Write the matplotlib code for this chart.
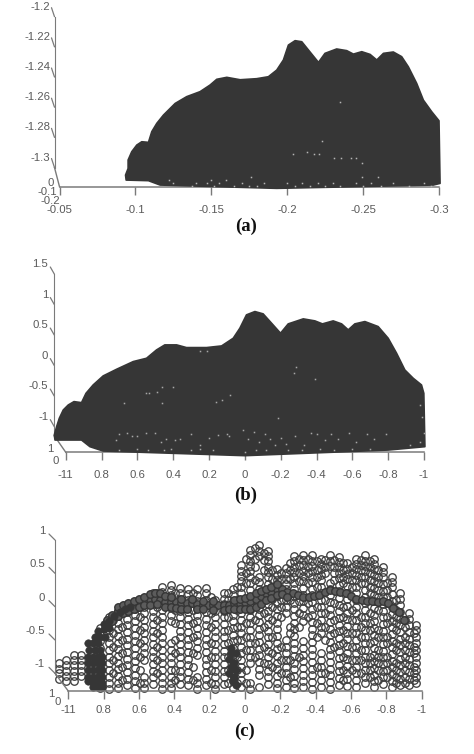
import matplotlib
matplotlib.use('Agg')
import matplotlib.pyplot as plt

plt.rcParams['font.family'] = ['Liberation Sans', 'DejaVu Sans']

W, H = 474, 754
DARK = '#363636'
AXC = '#7a7a7a'
TXT = '#5a5a5a'

# --- panel (a)
a_x_ticks = [-0.05, -0.1, -0.15, -0.2, -0.25, -0.3]
a_x_labels = ['-0.05', '-0.1', '-0.15', '-0.2', '-0.25', '-0.3']
a_y_ticks = [-1.2, -1.22, -1.24, -1.26, -1.28, -1.3]
a_y_labels = ['-1.2', '-1.22', '-1.24', '-1.26', '-1.28', '-1.3']
a_outline_x = [-0.0939, -0.0935, -0.0952, -0.0952, -0.0976, -0.1009, -0.1042, -0.1086, -0.1108, -0.1141,
               -0.1185, -0.1262, -0.1338, -0.1426, -0.1492, -0.1536, -0.1602, -0.169, -0.1799, -0.1876,
               -0.1931, -0.1975, -0.2008, -0.2052, -0.2096, -0.214, -0.2206, -0.2249, -0.2326, -0.2392,
               -0.2436, -0.2491, -0.2546, -0.259, -0.2634, -0.2699, -0.2754, -0.2798, -0.2853, -0.2897,
               -0.2952, -0.3, -0.3007, -0.2963, -0.1931, -0.1163, -0.1086]
a_outline_y = [-1.3083, -1.305, -1.3006, -1.295, -1.2895, -1.2851, -1.2829, -1.2833, -1.2762, -1.2707,
               -1.2652, -1.2575, -1.253, -1.2497, -1.2453, -1.2415, -1.2402, -1.2418, -1.2411, -1.2398,
               -1.2354, -1.2287, -1.2188, -1.2159, -1.2166, -1.2221, -1.2303, -1.2243, -1.2214, -1.2225,
               -1.2248, -1.2232, -1.225, -1.2287, -1.2243, -1.2234, -1.2265, -1.2332, -1.2442, -1.2553,
               -1.263, -1.269, -1.3105, -1.3116, -1.3138, -1.3116, -1.3087]
a_speck_x = [-0.2348, -0.2232, -0.2037, -0.2133, -0.2177, -0.2208, -0.2309, -0.2353, -0.2418, -0.2454, -0.2495,
             -0.122, -0.125, -0.137, -0.14, -0.147, -0.15, -0.152, -0.155, -0.16, -0.165, -0.17, -0.175, -0.18,
             -0.185, -0.2, -0.205, -0.21, -0.215, -0.22, -0.225, -0.23, -0.235, -0.245, -0.25, -0.255, -0.262,
             -0.27, -0.28, -0.29, -0.295, -0.176, -0.249, -0.26]
a_speck_y = [-1.2568, -1.2827, -1.2908, -1.2897, -1.2908, -1.2908, -1.2939, -1.2939, -1.2939, -1.2939, -1.2972,
             -1.3085, -1.3105, -1.312, -1.3105, -1.3105, -1.3085, -1.312, -1.3105, -1.3085, -1.312, -1.3105,
             -1.312, -1.312, -1.3105, -1.3105, -1.312, -1.3105, -1.312, -1.3105, -1.312, -1.3105, -1.312,
             -1.3105, -1.312, -1.3105, -1.312, -1.3105, -1.312, -1.3105, -1.312, -1.3065, -1.3065, -1.3065]

# --- panel (b)
bc_x_ticks = [1, 0.8, 0.6, 0.4, 0.2, 0, -0.2, -0.4, -0.6, -0.8, -1]
bc_x_labels = ['-11', '0.8', '0.6', '0.4', '0.2', '0', '-0.2', '-0.4', '-0.6', '-0.8', '-1']
b_y_ticks = [1.5, 1, 0.5, 0, -0.5, -1]
b_y_labels = ['1.5', '1', '0.5', '0', '-0.5', '-1']
b_outline_x = [1.064, 1.051, 1.036, 1.014, 0.986, 0.954, 0.912, 0.887, 0.847, 0.791, 0.716, 0.623, 0.549, 0.493,
               0.447, 0.381, 0.326, 0.214, 0.13, 0.065, 0.028, -0.009, -0.056, -0.102, -0.149, -0.199, -0.242,
               -0.326, -0.391, -0.433, -0.493, -0.54, -0.577, -0.614, -0.67, -0.744, -0.8, -0.847, -0.893, -0.94,
               -0.986, -0.999, -1.005, -0.8, 0, 0.791, 0.865, 0.912, 1.06]
b_outline_y = [-1.137, -1.0, -0.863, -0.727, -0.645, -0.59, -0.607, -0.454, -0.317, -0.169, -0.06, 0.066, 0.12,
               0.257, 0.339, 0.339, 0.295, 0.295, 0.322, 0.448, 0.612, 0.831, 0.885, 0.847, 0.694, 0.53, 0.683,
               0.765, 0.732, 0.683, 0.732, 0.683, 0.585, 0.683, 0.721, 0.639, 0.448, 0.202, -0.071, -0.208,
               -0.317, -0.454, -1.328, -1.383, -1.475, -1.399, -1.328, -1.219, -1.219]
b_speck_x = [0.553, 0.536, 0.489, 0.461, 0.4, 0.46, 0.675, 0.164, 0.13, 0.084, -0.273, -0.288, -0.394, -0.186,
             0.251, 0.21,
             0.72, 0.7, 0.66, 0.63, 0.6, 0.55, 0.5, 0.47, 0.44, 0.39, 0.36, 0.3, 0.25, 0.2, 0.15, 0.1, 0.09,
             0.01, -0.02, -0.05, -0.08, -0.11, -0.14, -0.17, -0.2, -0.23, -0.28, -0.33, -0.37, -0.4, -0.45,
             -0.48, -0.52, -0.58, -0.62, -0.68, -0.72, -0.79, -0.98, -0.99, -1.0,
             0.7, 0.6, 0.54, 0.45, 0.41, 0.3, 0.25, 0.18, 0.0, -0.06, -0.12, -0.24, -0.32, -0.42, -0.5, -0.6,
             -0.7, -0.92, -0.98]
b_speck_y = [-0.454, -0.454, -0.426, -0.355, -0.344, -0.607, -0.617, -0.59, -0.563, -0.481, -0.115, -0.027,
             -0.213, -0.863, 0.246, 0.246,
             -1.22, -1.12, -1.1, -1.15, -1.16, -1.1, -1.1, -1.25, -1.2, -1.22, -1.2, -1.12, -1.3, -1.18, -1.14,
             -1.12, -1.16, -1.06, -1.2, -1.08, -1.25, -1.12, -1.2, -1.3, -1.18, -1.28, -1.15, -1.3, -1.1, -1.12,
             -1.22, -1.12, -1.2, -1.1, -1.25, -1.12, -1.2, -1.12, -0.65, -0.85, -1.1,
             -1.38, -1.37, -1.38, -1.38, -1.37, -1.38, -1.37, -1.38, -1.42, -1.38, -1.39, -1.38, -1.38, -1.37,
             -1.38, -1.37, -1.36, -1.3, -1.25]

# --- panel (c)
c_y_ticks = [1, 0.5, 0, -0.5, -1]
c_y_labels = ['1', '0.5', '0', '-0.5', '-1']
c_col_x = [1.05, 1.01, 0.97, 0.93, 0.82, 0.77, 0.72, 0.67, 0.62, 0.57, 0.52, 0.47, 0.42, 0.37, 0.32, 0.27, 0.22,
           0.17, 0.12, 0.07, 0.02, -0.03, -0.08, -0.13, -0.18, -0.23, -0.28, -0.33, -0.38, -0.43, -0.48, -0.53,
           -0.58, -0.63, -0.68, -0.73, -0.78, -0.83, -0.88, -0.93, -0.97]
c_col_y = [
    [-0.85, -0.93, -1.0, -1.08],
    [-0.8, -0.88, -0.96, -1.04, -1.12],
    [-0.72, -0.8, -0.88, -0.96, -1.04, -1.12],
    [-0.72, -0.8, -0.88, -0.96, -1.04],
    [-0.32, -0.42, -0.52, -0.62, -0.72, -0.82, -0.92, -1.02, -1.12, -1.22],
    [-0.15, -0.25, -0.35, -0.45, -0.55, -0.65, -0.75, -0.85, -0.95, -1.05, -1.15, -1.23],
    [-0.06, -0.14, -0.24, -0.34, -0.44, -0.54, -0.64, -0.74, -0.84, -0.94, -1.04, -1.14, -1.22],
    [0.0, -0.08, -0.18, -0.28, -0.38, -0.48, -0.58, -0.68, -0.78, -0.88, -0.98, -1.08, -1.18],
    [0.04, -0.04, -0.12, -0.22, -0.32, -0.42, -0.52, -0.62, -0.72, -0.82, -0.92, -1.02, -1.12, -1.22],
    [0.08, 0.0, -0.1, -0.2, -0.3, -0.4, -0.5, -0.6, -0.7, -0.8, -1.05, -1.15, -1.22],
    [0.2, 0.12, 0.04, -0.06, -0.16, -0.26, -0.36, -0.46, -0.56, -0.66, -0.76, -0.86, -0.96, -1.06, -1.16],
    [0.3, 0.22, 0.14, 0.05, -0.05, -0.15, -0.25, -0.35, -0.45, -0.55, -0.65, -0.75, -0.85, -0.95, -1.05, -1.15, -1.23],
    [0.33, 0.25, 0.17, 0.08, -0.02, -0.12, -0.22, -0.55, -0.65, -0.75, -0.85, -0.95, -1.05, -1.15, -1.22],
    [0.28, 0.2, 0.12, 0.04, -0.06, -0.16, -0.26, -0.36, -0.46, -0.56, -0.66, -0.76, -0.86, -0.96, -1.06, -1.16],
    [0.27, 0.19, 0.1, 0.02, -0.08, -0.18, -0.28, -0.38, -0.48, -0.58, -0.68, -0.78, -0.88, -0.98, -1.08, -1.18],
    [0.27, 0.18, 0.08, -0.02, -0.12, -0.22, -0.32, -0.42, -0.52, -0.62, -0.72, -1.05, -1.15, -1.23],
    [0.28, 0.2, 0.1, 0.02, -0.08, -0.18, -0.28, -0.38, -0.48, -0.58, -0.68, -0.78, -0.88, -0.98, -1.08, -1.18],
    [0.1, 0.02, -0.06, -0.16, -0.26, -0.36, -0.46, -0.56, -0.66, -0.76, -0.86, -0.96, -1.06, -1.16, -1.23],
    [0.2, 0.12, 0.04, -0.06, -0.16, -0.26, -0.36, -0.46, -0.56, -0.66, -0.76, -0.86, -0.96, -1.06, -1.16],
    [0.27, 0.18, 0.08, -0.02, -0.12, -0.22, -0.32, -0.42, -0.52, -0.62, -0.72, -0.82, -0.92, -1.02, -1.12, -1.22],
    [0.62, 0.54, 0.46, 0.38, 0.3, 0.2, 0.1, 0.0, -0.1, -0.2, -0.3, -0.4, -0.5, -0.6, -0.7, -0.8, -0.9, -1.0, -1.1, -1.2],
    [0.85, 0.77, 0.69, 0.61, 0.53, 0.45, 0.35, 0.25, 0.15, 0.05, -0.05, -0.15, -0.25, -0.35, -0.45, -0.55, -0.65, -0.75, -0.85, -1.15, -1.23],
    [0.92, 0.84, 0.76, 0.45, 0.37, 0.27, 0.17, 0.07, -0.03, -0.13, -0.23, -0.33, -0.43, -0.53, -0.63, -0.73, -0.83, -0.93, -1.03, -1.2],
    [0.84, 0.76, 0.68, 0.6, 0.52, 0.44, 0.34, 0.24, 0.14, 0.04, -0.06, -0.16, -0.26, -0.36, -0.46, -0.56, -0.66, -0.76, -0.86, -0.96, -1.06, -1.16],
    [0.56, 0.48, 0.4, 0.32, 0.24, 0.16, 0.06, -0.04, -0.14, -0.24, -0.34, -0.44, -0.54, -0.64, -0.74, -0.84, -0.94, -1.04, -1.14, -1.22],
    [0.58, 0.5, 0.42, 0.34, 0.26, 0.18, 0.1, 0.0, -0.1, -0.5, -0.6, -0.7, -0.8, -0.9, -1.0, -1.1, -1.2],
    [0.76, 0.68, 0.6, 0.52, 0.44, 0.36, 0.26, 0.16, 0.06, -0.04, -0.14, -0.24, -0.34, -0.44, -0.54, -0.64, -0.74, -0.84, -0.94, -1.04, -1.14, -1.22],
    [0.78, 0.7, 0.62, 0.54, 0.46, 0.38, 0.28, 0.18, 0.08, -0.02, -0.12, -0.22, -0.52, -0.62, -0.72, -0.82, -0.92, -1.02, -1.12, -1.2],
    [0.77, 0.69, 0.61, 0.53, 0.45, 0.37, 0.27, 0.17, 0.07, -0.03, -0.13, -0.23, -0.33, -0.43, -0.53, -0.63, -0.73, -0.83, -0.93, -1.03, -1.13, -1.23],
    [0.72, 0.64, 0.56, 0.48, 0.4, 0.3, 0.2, 0.1, 0.0, -0.1, -0.2, -0.3, -0.4, -0.7, -0.8, -0.9, -1.0, -1.1, -1.2],
    [0.77, 0.69, 0.61, 0.35, 0.27, 0.17, 0.07, -0.03, -0.13, -0.23, -0.33, -0.43, -0.53, -0.63, -0.73, -0.83, -0.93, -1.03, -1.13, -1.23],
    [0.75, 0.67, 0.59, 0.51, 0.43, 0.33, 0.23, 0.13, 0.03, -0.07, -0.17, -0.27, -0.37, -0.47, -0.57, -0.67, -0.77, -0.87, -0.97, -1.07, -1.17],
    [0.65, 0.57, 0.49, 0.41, 0.31, 0.21, 0.11, 0.01, -0.09, -0.19, -0.29, -0.39, -0.49, -0.59, -0.69, -0.79, -0.89, -0.99, -1.09, -1.19],
    [0.72, 0.64, 0.56, 0.48, 0.4, 0.3, 0.2, 0.1, 0.0, -0.1, -0.2, -0.3, -0.4, -0.5, -0.6, -0.7, -0.8, -0.9, -1.0, -1.1, -1.2],
    [0.77, 0.69, 0.61, 0.53, 0.45, 0.35, 0.25, 0.15, 0.05, -0.05, -0.15, -0.25, -0.35, -0.45, -0.55, -0.65, -0.75, -0.85, -0.95, -1.05, -1.15],
    [0.72, 0.64, 0.56, 0.48, 0.38, 0.28, 0.18, 0.08, -0.02, -0.12, -0.22, -0.32, -0.42, -0.52, -0.62, -0.72, -0.82, -0.92, -1.02, -1.12, -1.2],
    [0.6, 0.52, 0.44, 0.34, 0.24, 0.14, 0.04, -0.06, -0.16, -0.26, -0.36, -0.46, -0.56, -0.66, -0.76, -0.86, -0.96, -1.06, -1.16],
    [0.45, 0.37, 0.29, 0.19, 0.09, -0.01, -0.11, -0.21, -0.31, -0.41, -0.51, -0.61, -0.71, -0.81, -0.91, -1.01, -1.11, -1.2],
    [0.2, 0.12, 0.02, -0.08, -0.18, -0.28, -0.38, -0.48, -0.58, -0.68, -0.78, -0.88, -0.98, -1.08, -1.18],
    [-0.1, -0.18, -0.28, -0.38, -0.48, -0.58, -0.68, -0.78, -0.88, -0.98, -1.08, -1.18],
    [-0.27, -0.35, -0.45, -0.55, -0.65, -0.75, -0.85, -0.95, -1.05, -1.15],
]
# second sheet of the surface, seen through the first
c_back_x = [-0.955, -0.905, -0.855, -0.805, -0.755, -0.705, -0.655, -0.605, -0.555, -0.505, -0.455, -0.405, -0.355,
            -0.305, -0.255, -0.205, -0.155, -0.105, -0.055, -0.005, 0.045, 0.095, 0.195, 0.295, 0.395, 0.495,
            0.595, 0.695, 0.745]
c_back_y = [
    [-0.4, -0.6, -0.7, -0.9, -1.0, -1.1],
    [-0.2, -0.3, -0.45, -0.55, -0.65, -0.75, -0.85, -0.95, -1.05, -1.15],
    [0.1, -0.05, -0.15, -0.25, -0.35, -0.55, -0.65, -0.85, -0.95, -1.05, -1.15],
    [0.35, 0.25, 0.15, 0.05, -0.15, -0.25, -0.45, -0.55, -0.75, -0.85, -0.95, -1.05],
    [0.55, 0.45, 0.35, 0.25, 0.15, -0.05, -0.35, -0.45, -0.65, -0.75, -0.85, -0.95, -1.1],
    [0.68, 0.6, 0.5, 0.4, 0.3, 0.2, -0.1, -0.25, -0.35, -0.55, -0.75, -0.85, -0.95, -1.05],
    [0.7, 0.62, 0.55, 0.45, 0.35, -0.15, -0.3, -0.45, -0.65, -0.8, -1.0],
    [0.6, 0.5, 0.4, 0.3, -0.05, -0.2, -0.4, -0.6, -0.8, -0.95],
    [0.65, 0.55, 0.45, 0.35, 0.0, -0.15, -0.35, -0.55, -0.75, -0.95, -1.1],
    [0.7, 0.6, 0.5, 0.4, 0.05, -0.2, -0.4, -0.6],
    [0.7, 0.6, 0.5, 0.1, -0.1, -0.3, -0.5, -1.0],
    [0.68, 0.55, 0.45, 0.3, 0.0, -0.25, -0.45, -0.9],
    [0.72, 0.6, 0.5, 0.35, 0.05, -0.15],
    [0.72, 0.62, 0.5, 0.38, 0.08, -0.1, -0.3, -0.75],
    [0.66, 0.55, 0.42, 0.1, -0.3, -0.4, -0.8, -1.05],
    [0.5, 0.42, 0.1, 0.0, -0.15, -0.6, -0.8, -1.0],
    [0.55, 0.42, 0.3, 0.12, 0.0, -0.2, -0.45, -0.7, -0.9],
    [0.8, 0.7, 0.55, 0.1, -0.1, -0.3, -0.6, -0.85],
    [0.88, 0.72, 0.6, 0.4, 0.1, -0.2, -0.55, -0.75],
    [0.72, 0.5, 0.35, 0.05, -0.25, -0.45, -0.65, -0.95, -1.15],
    [0.3, 0.1, -0.05, -0.3, -0.5, -0.75, -0.95, -1.15],
    [0.2, 0.1, -0.15, -0.35, -0.55, -0.75, -0.95, -1.15],
    [0.15, -0.1, -0.3, -0.55, -0.75, -0.95, -1.15],
    [0.2, -0.05, -0.25, -0.45, -0.7, -0.9, -1.1],
    [0.2, -0.05, -0.25, -0.5, -0.7, -0.95, -1.1],
    [0.2, 0.0, -0.2, -0.4, -0.6, -0.8, -1.0],
    [0.0, -0.15, -0.35, -0.55, -0.75, -0.95, -1.15],
    [-0.1, -0.3, -0.5, -0.7, -0.9, -1.1],
    [-0.2, -0.4, -0.6, -0.8, -1.0],
]
# dense fold running along the surface
c_fold_x = [0.78, 0.75, 0.72, 0.69, 0.66, 0.63, 0.6, 0.57, 0.54, 0.51, 0.48, 0.45, 0.42, 0.39, 0.36, 0.33, 0.3, 0.27,
            0.24, 0.21, 0.18, 0.15, 0.12, 0.09, 0.06, 0.03, 0.0, -0.03, -0.06, -0.09, -0.12, -0.15, -0.18, -0.21,
            -0.24, -0.27, -0.3, -0.33, -0.36, -0.39, -0.42, -0.45, -0.48, -0.51, -0.54, -0.57, -0.6, -0.63, -0.66,
            -0.69, -0.72, -0.75, -0.78, -0.81, -0.84, -0.87, -0.9]
c_fold_y = [-0.2, -0.13, -0.07, -0.03, 0.0, 0.03, 0.06, 0.09, 0.11, 0.12, 0.1, 0.07, 0.07, 0.07, 0.06, 0.05, 0.05, 0.04,
            0.03, 0.02, 0.03, 0.03, 0.03, 0.03, 0.05, 0.05, 0.07, 0.09, 0.12, 0.16, 0.2, 0.22, 0.27, 0.27,
            0.22, 0.2, 0.17, 0.15, 0.15, 0.16, 0.18, 0.22, 0.25, 0.24, 0.22, 0.2, 0.16, 0.12, 0.1,
            0.08, 0.08, 0.07, 0.08, 0.05, -0.02, -0.08, -0.2]
c_fold_up_x = [0.72, 0.69, 0.66, 0.63, 0.6, 0.57, 0.54, 0.51, 0.48, 0.45, 0.42, 0.36, 0.3, 0.24, 0.18, 0.06, 0.03, 0.0,
               -0.03, -0.06, -0.09, -0.12, -0.15, -0.18]
c_fold_up_y = [-0.01, 0.03, 0.06, 0.09, 0.12, 0.15, 0.19, 0.21, 0.2, 0.16, 0.14, 0.12, 0.11, 0.09, 0.09, 0.1, 0.12, 0.13,
               0.16, 0.2, 0.23, 0.27, 0.3, 0.34]
c_fold_lo_x = [0.78, 0.75, 0.72, 0.69, 0.66, 0.63, 0.6, 0.57, 0.54, 0.5, 0.45, 0.42, 0.39, 0.36, 0.33, 0.27, 0.24, 0.18,
               0.12, 0.09, 0.06, 0.03, 0.0, -0.03, -0.06, -0.09, -0.12, -0.15, -0.18, -0.21, -0.24]
c_fold_lo_y = [-0.28, -0.21, -0.14, -0.1, -0.07, -0.04, -0.01, 0.02, 0.03, 0.04, 0.0, -0.01, -0.02, -0.03, -0.03, -0.04, -0.04, -0.05,
               -0.05, -0.04, -0.03, -0.04, -0.04, -0.03, 0.0, 0.04, 0.1, 0.13, 0.17, 0.19, 0.14]
# almost solid patches
c_solid_x = [0.89, 0.86, 0.83, 0.88, 0.85, 0.82, 0.89, 0.86, 0.83, 0.81, 0.89, 0.86, 0.83, 0.81, 0.89, 0.86, 0.83, 0.81,
             0.89, 0.86, 0.83, 0.81, 0.89, 0.86, 0.83, 0.81, 0.86, 0.83, 0.81, 0.85, 0.82, 0.79, 0.83, 0.8, 0.77, 0.8,
             0.77, 0.74, 0.71, 0.68, 0.65, 0.08, 0.05, 0.09, 0.06, 0.08, 0.05, 0.09, 0.06, 0.07, 0.05, 0.08]
c_solid_y = [-0.55, -0.55, -0.55, -0.65, -0.65, -0.65, -0.75, -0.75, -0.75, -0.75, -0.85, -0.85, -0.85, -0.85, -0.95, -0.95, -0.95, -0.95,
             -1.05, -1.05, -1.05, -1.05, -1.12, -1.14, -1.14, -1.14, -1.2, -1.2, -1.2, -0.45, -0.45, -0.45, -0.36, -0.34, -0.32, -0.26,
             -0.22, -0.14, -0.08, -0.04, -0.01, -0.62, -0.7, -0.78, -0.84, -0.9, -0.95, -1.0, -1.06, -1.12, -1.18, -0.7]


def fig_text(x, y, s, **kw):
    # positions given in reference pixels
    kw.setdefault('color', TXT)
    kw.setdefault('fontsize', 8.2)
    kw.setdefault('ha', 'center')
    kw.setdefault('va', 'center')
    fig.text(x / W, 1 - y / H, s, **kw)


def make_axes(left, right, top, bottom, xlim, ylim, x_ticks, x_labels, x_bounds, y_low, pad):
    ax = fig.add_axes([left / W, 1 - bottom / H, (right - left) / W, (bottom - top) / H])
    ax.set_xlim(*xlim)
    ax.set_ylim(*ylim)
    ax.patch.set_alpha(0)
    ax.spines['top'].set_visible(False)
    ax.spines['right'].set_visible(False)
    ax.spines['bottom'].set_color(AXC)
    ax.spines['left'].set_color(AXC)
    ax.spines['bottom'].set_linewidth(1.1)
    ax.spines['bottom'].set_bounds(*x_bounds)
    ax.spines['left'].set_bounds(y_low, ylim[1])
    ax.set_xticks(x_ticks)
    ax.set_xticklabels(x_labels)
    ax.tick_params(axis='x', length=6, width=1, color=AXC, labelcolor=TXT, labelsize=8.2, pad=pad)
    ax.set_yticks([])
    return ax


def slant_ticks(ax, ticks, labels, dx, dy, lx, ly):
    x0 = ax.get_xlim()[0]
    for t, lab in zip(ticks, labels):
        ax.annotate('', xy=(x0, t), xytext=(dx, dy), textcoords='offset pixels', annotation_clip=False,
                    arrowprops=dict(arrowstyle='-', color=AXC, lw=0.9, shrinkA=0, shrinkB=0))
        ax.annotate(lab, xy=(x0, t), xytext=(lx, ly), textcoords='offset pixels', color=TXT, fontsize=8.2,
                    ha='right', va='center', annotation_clip=False)


fig = plt.figure(figsize=(W / 100, H / 100), dpi=100)

# (a)
ax = make_axes(54.5, 439, 16.7, 186.7, (-0.0467, -0.3), (-1.3127, -1.2), a_x_ticks, a_x_labels, (-0.05, -0.3), -1.3, 7)
ax.fill(a_outline_x, a_outline_y, fc=DARK, ec=DARK, lw=1.2, joinstyle='round', clip_on=False, zorder=3)
ax.plot(a_speck_x, a_speck_y, ls='none', marker='s', ms=1.1, mew=0, color='#b5b5b5', zorder=4, clip_on=False)
ax.plot([-0.0467, -0.05], [-1.3, -1.3127], color=AXC, lw=1, clip_on=False)
slant_ticks(ax, a_y_ticks, a_y_labels, -3, 9, -4, 10)
fig_text(51, 183, '0')
fig_text(47, 192, '-0.1')
fig_text(50, 201.5, '-0.2')
fig_text(246, 226, '(a)', family='Liberation Serif', fontweight='bold', fontsize=13.5, color='#111111')

# (b)
ax = make_axes(54.3, 424, 274, 452.3, (1.064, -1), (-1.42, 1.5), bc_x_ticks, bc_x_labels, (1, -1), -1.15, 7)
ax.fill(b_outline_x, b_outline_y, fc=DARK, ec=DARK, lw=1.2, joinstyle='round', clip_on=False, zorder=3)
ax.plot(b_speck_x, b_speck_y, ls='none', marker='s', ms=1.1, mew=0, color='#a8a8a8', zorder=4, clip_on=False)
ax.plot([1.064, 1], [-1.15, -1.42], color=AXC, lw=1, clip_on=False)
slant_ticks(ax, b_y_ticks, b_y_labels, -4, 7, -6, 10)
fig_text(50.5, 449, '1')
fig_text(56, 461, '0')
fig_text(246, 495, '(b)', family='Liberation Serif', fontweight='bold', fontsize=13.5, color='#111111')

# (c)
ax = make_axes(55, 421.7, 540, 691, (1.075, -1), (-1.265, 1), bc_x_ticks, bc_x_labels, (1, -1), -1.0, 4)
circle = dict(ls='none', marker='o', ms=5.4, mfc='none', mec='#404040', mew=0.95, clip_on=False)
fold = dict(ls='none', marker='o', ms=5.4, mfc='#5c5c5c', mec=DARK, mew=1.0, clip_on=False)
for x, ys in zip(c_back_x, c_back_y):
    ax.plot([x] * len(ys), ys, **circle)
for x, ys in zip(c_col_x, c_col_y):
    ax.plot([x] * len(ys), ys, **circle)
ax.plot(c_fold_x, c_fold_y, **fold)
ax.plot(c_fold_up_x, c_fold_up_y, **fold)
ax.plot(c_fold_lo_x, c_fold_lo_y, **fold)
ax.plot(c_solid_x, c_solid_y, ls='none', marker='o', ms=5.4, mfc=DARK, mec=DARK, mew=0.4, clip_on=False)
ax.plot([1.075, 1], [-1.0, -1.265], color=AXC, lw=1, clip_on=False)
slant_ticks(ax, c_y_ticks, c_y_labels, -6, 6, -10, 9)
fig_text(51, 694, '1')
fig_text(58, 702, '0')
fig_text(244, 731, '(c)', family='Liberation Serif', fontweight='bold', fontsize=13.5, color='#111111')

fig.savefig('out.png', dpi=100)
